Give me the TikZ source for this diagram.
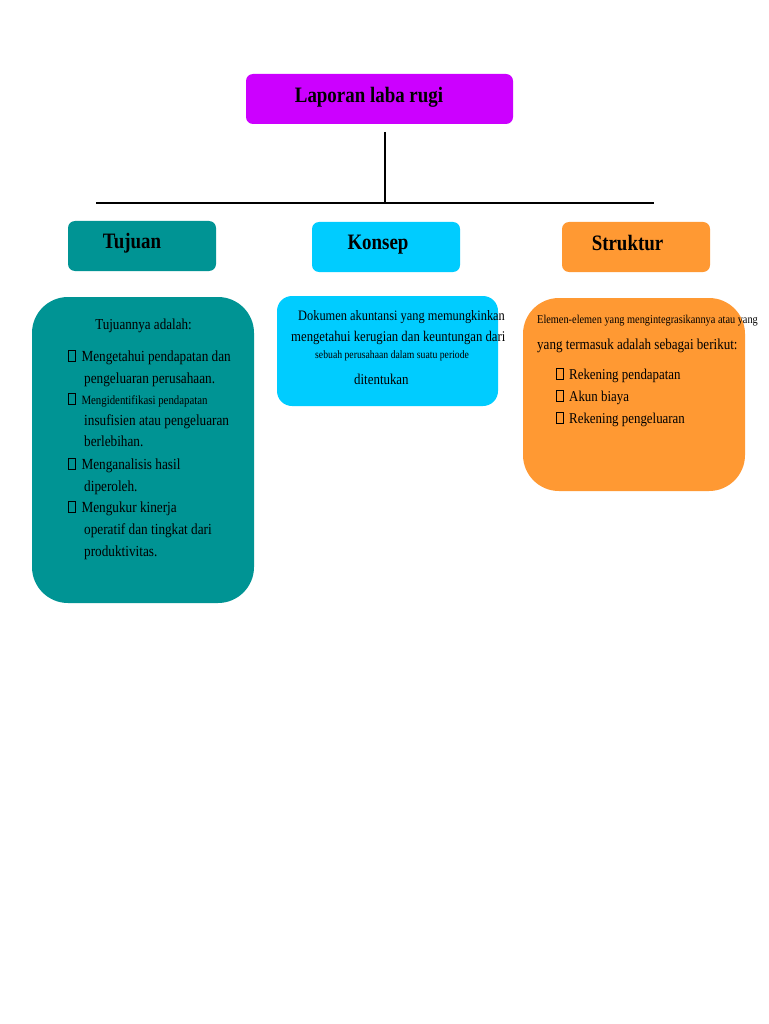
\documentclass[tikz,border=0pt]{standalone}
\usepackage{fontspec}
\setmainfont{Liberation Serif}[FakeStretch=0.86]
\usetikzlibrary{positioning}
\definecolor{ungu}{HTML}{CC00FF}
\definecolor{hijau}{HTML}{009494}
\definecolor{biru}{HTML}{00CCFF}
\definecolor{oranye}{HTML}{FF9933}
\newcommand{\kotak}{{\setlength{\fboxsep}{0pt}\setlength{\fboxrule}{0.5pt}\fbox{\rule{0pt}{0.68em}\hspace{0.42em}}}\hspace{0.38em}}

\begin{document}
\begin{tikzpicture}[x=1pt, y=-1pt,
    kepala/.style={rectangle, rounded corners=7pt, minimum width=148pt, minimum height=50pt, inner sep=0pt},
    isi/.style={rectangle, inner sep=0pt},
    judultxt/.style={font=\fontsize{22}{26}\selectfont\bfseries, inner sep=0pt},
    baris/.style={anchor=base west, inner sep=0pt, font=\fontsize{15.4}{18}\selectfont},
    garis/.style={line width=2pt}]
\useasboundingbox[fill=white] (0,0) rectangle (768,1024);

% Judul
\node[kepala, fill=ungu, minimum width=267pt] (judul) at (379.5,99) {};
\node[judultxt] (judullbl) at (369,97) {Laporan laba rugi};

% Garis cabang
\coordinate (kiri) at (96,203);
\coordinate (kanan) at (654,203);
\coordinate (atas) at (385,132);
\draw[garis] (atas) -- (atas |- kiri);
\draw[garis] (kiri) -- (kanan);

% Kepala kolom
\node[kepala, fill=hijau] (tujuan) at (142,246) {};
\node[kepala, fill=biru] (konsep) at (386,247) {};
\node[kepala, fill=oranye] (struktur) at (636,247) {};
\node[judultxt] (tujuanlbl) at (132,243) {Tujuan};
\node[judultxt] (konseplbl) at (378,245) {Konsep};
\node[judultxt] (strukturlbl) at (627.5,243) {Struktur};

% Kotak isi
\node[isi, fill=hijau, rounded corners=36pt, minimum width=222pt, minimum height=306pt] (tujuanbox) at (143,450) {};
\node[isi, fill=biru, rounded corners=15pt, minimum width=221pt, minimum height=110pt] (konsepbox) at (387.5,351) {};
\node[isi, fill=oranye, rounded corners=36pt, minimum width=222pt, minimum height=193pt] (strukturbox) at (634,394.5) {};

% Isi tujuan
\node[inner sep=0pt, font=\fontsize{15.2}{18}\selectfont, anchor=base] (tj0) at (143.5,329) {Tujuannya adalah:};
\foreach \y/\x/\t [count=\i] in {
    361/68/{\kotak Mengetahui pendapatan dan},
    383/84/{pengeluaran perusahaan.},
    404/68/{\kotak{\fontsize{12.6}{14}\selectfont Mengidentifikasi pendapatan}},
    425/84/{insufisien atau pengeluaran},
    446/84/{berlebihan.},
    469/68/{\kotak Menganalisis hasil},
    491/84/{diperoleh.},
    512/68/{\kotak Mengukur kinerja},
    534/84/{operatif dan tingkat dari},
    556/84/{produktivitas.}}
  \node[baris] (tj\i) at (\x,\y) {\t};

% Isi konsep
\node[baris, font=\fontsize{14.4}{17}\selectfont] (ks1) at (298,320) {Dokumen akuntansi yang memungkinkan};
\node[baris, font=\fontsize{14.8}{17}\selectfont] (ks2) at (291,341) {mengetahui kerugian dan keuntungan dari};
\node[baris, font=\fontsize{11.3}{13}\selectfont] (ks3) at (315,358) {sebuah perusahaan dalam suatu periode};
\node[baris, font=\fontsize{15}{17}\selectfont] (ks4) at (354,384) {ditentukan};

% Isi struktur
\node[baris, font=\fontsize{12}{14}\selectfont] (st1) at (537,323) {Elemen-elemen yang mengintegrasikannya atau yang};
\node[baris, font=\fontsize{15.2}{17}\selectfont] (st2) at (537,349) {yang termasuk adalah sebagai berikut:};
\foreach \y/\t [count=\i] in {379/{Rekening pendapatan}, 401/{Akun biaya}, 423/{Rekening pengeluaran}}
  \node[baris, font=\fontsize{15}{17}\selectfont] (sb\i) at (556,\y) {\kotak\t};
\end{tikzpicture}
\end{document}
